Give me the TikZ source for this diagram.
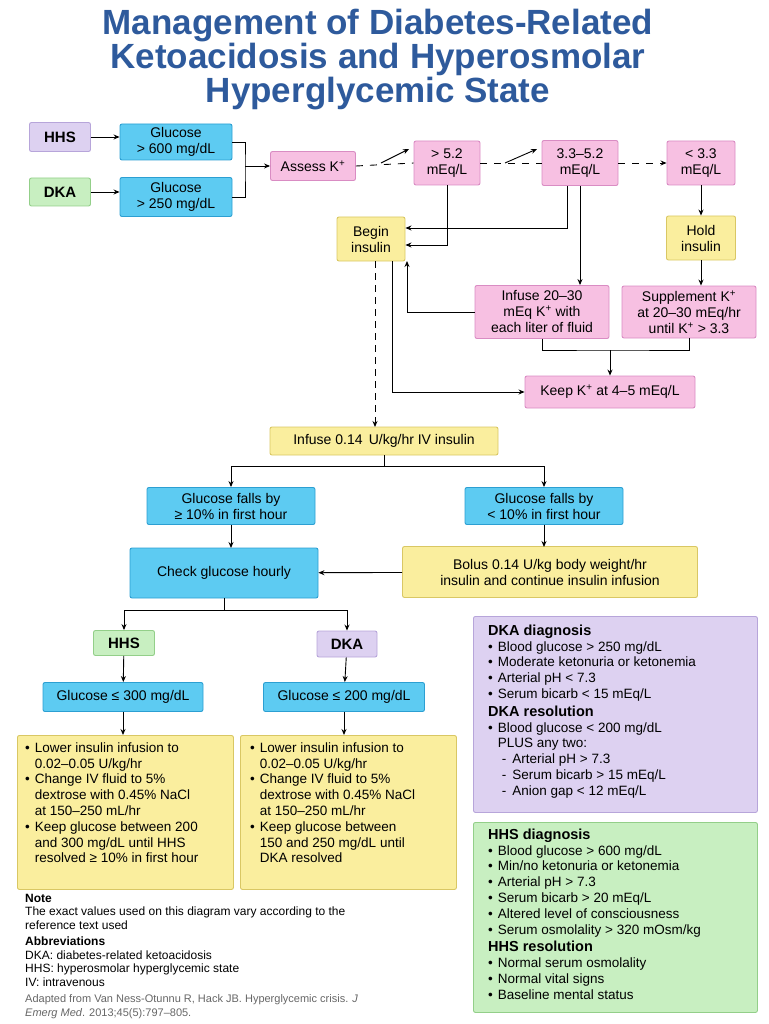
\documentclass[tikz,border=0pt]{standalone}
\usepackage{fontspec}
\setmainfont{Liberation Sans}
\usetikzlibrary{arrows.meta}
\definecolor{tblue}{HTML}{2E5A9C}
\definecolor{pinkf}{HTML}{F7C0E2}\definecolor{pinkd}{HTML}{D98CC3}
\definecolor{yelf}{HTML}{FAEE9E}\definecolor{yeld}{HTML}{D9C764}
\definecolor{cyanf}{HTML}{5DCBF2}\definecolor{cyand}{HTML}{2C9FD2}
\definecolor{purf}{HTML}{DDD1F1}\definecolor{purd}{HTML}{B7A5DA}
\definecolor{grnf}{HTML}{C8EFC1}\definecolor{grnd}{HTML}{93CF89}
\begin{document}
\begin{tikzpicture}[x=1pt,y=-1pt,
 box/.style={draw,rounded corners=2pt,line width=0.9pt,align=center,inner sep=1pt,font=\fontsize{14}{16}\selectfont},
 pink/.style={box,fill=pinkf,draw=pinkd},
 yel/.style={box,fill=yelf,draw=yeld},
 cy/.style={box,fill=cyanf,draw=cyand},
 pur/.style={box,fill=purf,draw=purd,font=\fontsize{15}{17}\bfseries},
 grn/.style={box,fill=grnf,draw=grnd,font=\fontsize{15}{17}\bfseries},
 sz/.style n args={2}{minimum width=#1,minimum height=#2},
 ar/.style={-{Stealth[length=6pt,width=5pt]},line width=0.9pt},
 ln/.style={line width=0.9pt},
 panel/.style={draw,rounded corners=2pt,line width=0.9pt,anchor=north west,align=left,inner sep=0pt},
 ptxt/.style={anchor=north west,align=left,inner sep=0pt,font=\fontsize{13.5}{15.8}\selectfont}]
\useasboundingbox (0,0) rectangle (768,1024);
\node[font=\fontsize{35}{34}\bfseries,text=tblue,align=center] (title) at (378,60) {Management of Diabetes-Related\\Ketoacidosis and Hyperosmolar\\Hyperglycemic State};
% top
\node[pur,sz={61pt}{29pt}] (hhs1) at (60,137) {HHS};
\node[grn,sz={61pt}{28pt}] (dka1) at (60,192) {DKA};
\node[cy,sz={112pt}{36pt}] (g600) at (176,142) {Glucose\\> 600 mg/dL};
\node[cy,sz={112pt}{39pt}] (g250) at (176,197) {Glucose\\> 250 mg/dL};
\node[pink,sz={85pt}{29pt}] (assess) at (313,166) {Assess K\textsuperscript{+}};
\node[pink,sz={66pt}{44pt}] (k1) at (447,163) {> 5.2\\mEq/L};
\node[pink,sz={76pt}{45pt}] (k2) at (580,163) {3.3–5.2\\mEq/L};
\node[pink,sz={68pt}{44pt}] (k3) at (701,163) {< 3.3\\mEq/L};
\node[yel,sz={68pt}{44pt}] (begin) at (371,239) {Begin\\insulin};
\node[yel,sz={69pt}{44pt}] (hold) at (701,238) {Hold\\insulin};
\node[pink,sz={134pt}{53pt}] (infk) at (542,312) {Infuse 20–30\\mEq K\textsuperscript{+} with\\each liter of fluid};
\node[pink,sz={134pt}{52pt}] (supp) at (689,312) {Supplement K\textsuperscript{+}\\at 20–30 mEq/hr\\until K\textsuperscript{+} > 3.3};
\node[pink,sz={170pt}{32pt}] (keep) at (610,392) {Keep K\textsuperscript{+} at 4–5 mEq/L};
\node[yel,sz={228pt}{28pt}] (inf014) at (384,441) {Infuse 0.14 \,U/kg/hr IV insulin};
\node[cy,sz={168pt}{37pt}] (fa) at (231,506) {Glucose falls by\\≥ 10\% in first hour};
\node[cy,sz={158pt}{37pt}] (fb) at (544,506) {Glucose falls by\\< 10\% in first hour};
\node[cy,sz={188pt}{50pt}] (check) at (224,573) {Check glucose hourly};
\node[yel,sz={295pt}{51pt}] (bolus) at (550,572) {Bolus 0.14 U/kg body weight/hr\\insulin and continue insulin infusion};
\node[grn,sz={61pt}{25pt}] (hhs2) at (124,643) {HHS};
\node[pur,sz={60pt}{26pt}] (dka2) at (347,644) {DKA};
\node[cy,sz={160pt}{29pt}] (g300) at (123,697) {Glucose ≤ 300 mg/dL};
\node[cy,sz={161pt}{29pt}] (g200) at (344,697) {Glucose ≤ 200 mg/dL};
\node[panel,fill=yelf,draw=yeld,minimum width=216pt,minimum height=154pt] (yl) at (17,735) {};
\node[panel,fill=yelf,draw=yeld,minimum width=216pt,minimum height=154pt] (yr) at (240,735) {};
\node[ptxt] at (25,741) {\begin{tabular}{@{}l@{\hspace{5pt}}l@{}}
•&Lower insulin infusion to\\&0.02–0.05 U/kg/hr\\•&Change IV fluid to 5\%\\&dextrose with 0.45\% NaCl\\&at 150–250 mL/hr\\•&Keep glucose between 200\\&and 300 mg/dL until HHS\\&resolved ≥ 10\% in first hour\end{tabular}};
\node[ptxt] at (250,741) {\begin{tabular}{@{}l@{\hspace{5pt}}l@{}}
•&Lower insulin infusion to\\&0.02–0.05 U/kg/hr\\•&Change IV fluid to 5\%\\&dextrose with 0.45\% NaCl\\&at 150–250 mL/hr\\•&Keep glucose between\\&150 and 250 mg/dL until\\&DKA resolved\end{tabular}};
\node[panel,fill=purf,draw=purd,minimum width=284pt,minimum height=196pt] (pd) at (473,616) {};
\node[panel,fill=grnf,draw=grnd,minimum width=284pt,minimum height=190pt] (ph) at (473,822) {};
\node[ptxt] at (488,624) {\begin{tabular}{@{}l@{\hspace{5pt}}l@{}}
\multicolumn{2}{@{}l}{\bfseries\fontsize{14.5}{16}\selectfont DKA diagnosis}\\
•&Blood glucose > 250 mg/dL\\•&Moderate ketonuria or ketonemia\\•&Arterial pH < 7.3\\•&Serum bicarb < 15 mEq/L\\[2pt]
\multicolumn{2}{@{}l}{\bfseries\fontsize{14.5}{16}\selectfont DKA resolution}\\
•&Blood glucose < 200 mg/dL\\&PLUS any two:\\&\hspace{4pt}-\hspace{6pt}Arterial pH > 7.3\\&\hspace{4pt}-\hspace{6pt}Serum bicarb > 15 mEq/L\\&\hspace{4pt}-\hspace{6pt}Anion gap < 12 mEq/L\end{tabular}};
\node[ptxt] at (488,828) {\begin{tabular}{@{}l@{\hspace{5pt}}l@{}}
\multicolumn{2}{@{}l}{\bfseries\fontsize{14.5}{16}\selectfont HHS diagnosis}\\
•&Blood glucose > 600 mg/dL\\•&Min/no ketonuria or ketonemia\\•&Arterial pH > 7.3\\•&Serum bicarb > 20 mEq/L\\•&Altered level of consciousness\\•&Serum osmolality > 320 mOsm/kg\\[2pt]
\multicolumn{2}{@{}l}{\bfseries\fontsize{14.5}{16}\selectfont HHS resolution}\\
•&Normal serum osmolality\\•&Normal vital signs\\•&Baseline mental status\end{tabular}};
\node[anchor=north west,align=left,inner sep=0pt,font=\fontsize{12}{13.5}\selectfont] (note) at (25,894) {\textbf{Note}\\The exact values used on this diagram vary according to the\\reference text used\\[3pt]\textbf{Abbreviations}\\DKA: diabetes-related ketoacidosis\\HHS: hyperosmolar hyperglycemic state\\IV: intravenous\\[3pt]
{\color{black!60}\fontsize{11}{13}\selectfont Adapted from Van Ness-Otunnu R, Hack JB. Hyperglycemic crisis. \textit{J}}\\
{\color{black!60}\fontsize{11}{13}\selectfont\textit{Emerg Med}. 2013;45(5):797–805.}};
% connectors top
\draw[ar] (hhs1.east) -- (hhs1.east -| g600.west);
\draw[ar] (dka1.east) -- (dka1.east -| g250.west);
\coordinate (m) at (245,166);
\draw[ln] (g600.east) -| (m) |- (g250.east);
\draw[ar] (m) -- (assess);
\draw[ln,dash pattern=on 7pt off 7pt] (assess.east) -- (k1.west);
\draw[ar] (381,163) -- (409,149);
\draw[ln,dash pattern=on 7pt off 7pt] (k1.east) -- (k2.west);
\draw[ar] (505,163) -- (537,149);
\draw[ar,dash pattern=on 7pt off 7pt] (k2.east) -- (k3.west);
\draw[ar] (k1.south) |- ([yshift=-6pt]begin.east);
\draw[ar] ([xshift=-13pt]k2.south) |- ([yshift=11pt]begin.east);
\draw[ar] (k2.south) -- (k2.south |- infk.north);
\draw[ar] (k3) -- (hold);
\draw[ar] (hold.south) -- (hold.south |- supp.north);
\draw[ar] (infk.west) -| (407,261);
\draw[ar] (392,261) |- (keep.west);
\draw[ln] (infk.south) |- (610,350) -| (supp.south);
\draw[ar] (610,350) -- (keep.north);
\draw[ar,dash pattern=on 7pt off 5pt] (375,261) -- (375,427);
% middle
\draw[ln] (inf014.south) -- (384,466);
\draw[ar] (384,466) -| (fa.north);
\draw[ar] (384,466) -| (fb.north);
\draw[ar] (fa) -- (231,548);
\draw[ar] (fb) -- (544,547);
\draw[ar] (bolus) -- (check);
\draw[ln] (check.south) -- (224,610);
\draw[ar] (224,610) -| (hhs2.north);
\draw[ar] (224,610) -| (dka2.north);
\draw[ar] (hhs2) -- (g300);
\draw[ar] (dka2) -- (g200);
\draw[ar] (g300.south) -- (123,735);
\draw[ar] (g200.south) -- (344,735);
\end{tikzpicture}
\end{document}
